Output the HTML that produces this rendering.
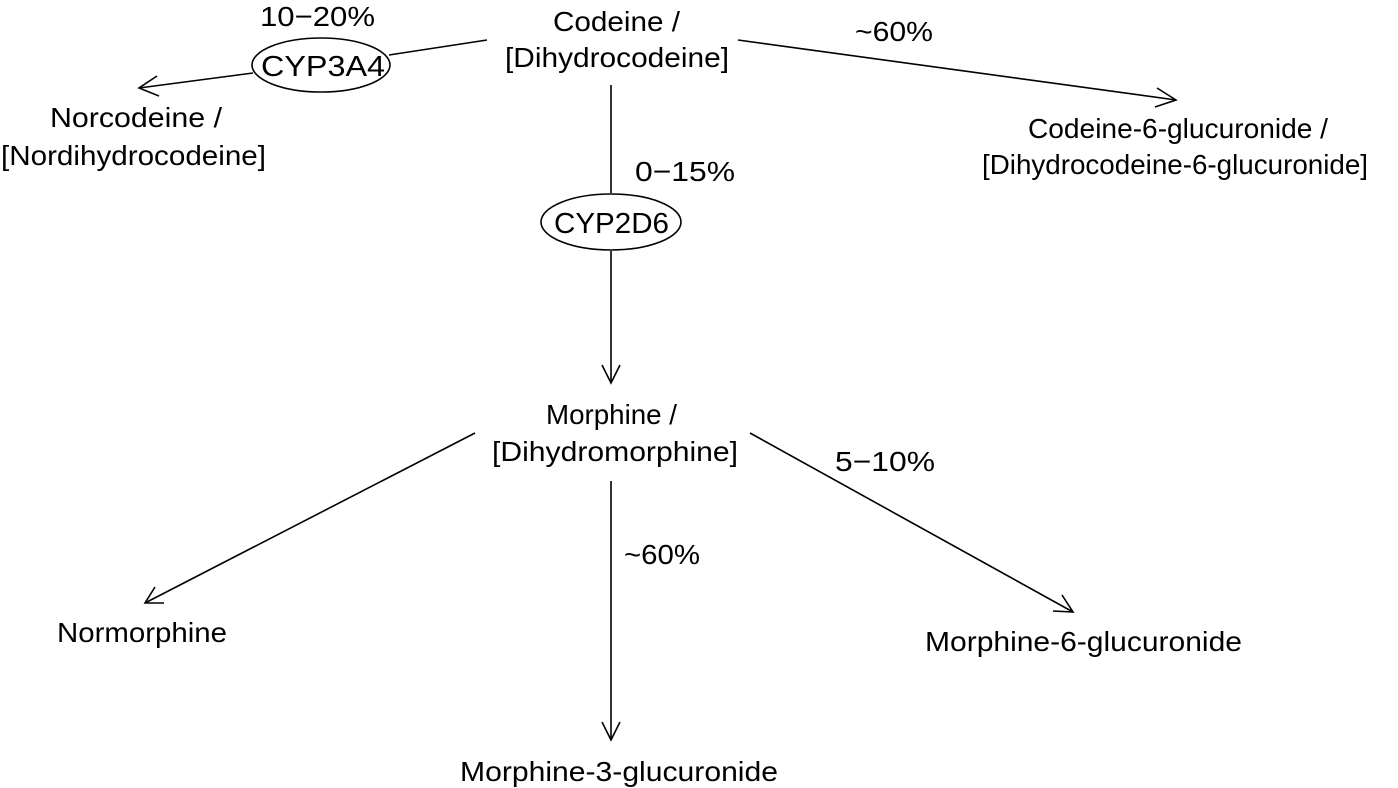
<!DOCTYPE html>
<html><head><style>
html,body{margin:0;padding:0;background:#fff;}
svg{display:block;}
text{font-family:"Liberation Sans",Arial,sans-serif;font-size:28px;fill:#000;}
</style></head><body>
<svg width="1398" height="788" viewBox="0 0 1398 788" xmlns="http://www.w3.org/2000/svg">
<g stroke="#000" stroke-width="1.6" fill="none">
<line x1="487" y1="40" x2="389" y2="55"/>
<line x1="253" y1="73" x2="139" y2="88"/>
<polyline points="157,76 139,88 159,96"/>
<ellipse cx="321" cy="65" rx="69" ry="27"/>
<line x1="738" y1="40" x2="1176" y2="100"/>
<polyline points="1157,88 1176,100 1155,107"/>
<line x1="611" y1="85" x2="611" y2="193"/>
<ellipse cx="611" cy="222" rx="70" ry="28"/>
<line x1="611" y1="251" x2="611" y2="383"/>
<polyline points="602,365 611,383 620,365"/>
<line x1="475" y1="433" x2="145" y2="603"/>
<polyline points="155,587 145,603 164,603"/>
<line x1="750" y1="433" x2="1073" y2="612"/>
<polyline points="1053,611 1073,612 1062,595"/>
<line x1="611" y1="481" x2="611" y2="740"/>
<polyline points="602,722 611,740 620,722"/>
</g>
<text x="260" y="26" textLength="115" lengthAdjust="spacingAndGlyphs">10−20%</text>
<text x="261" y="76" textLength="124" lengthAdjust="spacingAndGlyphs" style="font-size:29px">CYP3A4</text>
<text x="553" y="31" textLength="127" lengthAdjust="spacingAndGlyphs">Codeine /</text>
<text x="505" y="67" textLength="224" lengthAdjust="spacingAndGlyphs">[Dihydrocodeine]</text>
<text x="855" y="41" textLength="78" lengthAdjust="spacingAndGlyphs">~60%</text>
<text x="50" y="127" textLength="172" lengthAdjust="spacingAndGlyphs">Norcodeine /</text>
<text x="1" y="165" textLength="265" lengthAdjust="spacingAndGlyphs">[Nordihydrocodeine]</text>
<text x="1028" y="138" textLength="300" lengthAdjust="spacingAndGlyphs">Codeine-6-glucuronide /</text>
<text x="982" y="174" textLength="386" lengthAdjust="spacingAndGlyphs">[Dihydrocodeine-6-glucuronide]</text>
<text x="635" y="181" textLength="100" lengthAdjust="spacingAndGlyphs">0−15%</text>
<text x="554" y="233" textLength="115" lengthAdjust="spacingAndGlyphs" style="font-size:29px">CYP2D6</text>
<text x="546" y="424" textLength="131" lengthAdjust="spacingAndGlyphs">Morphine /</text>
<text x="492" y="461" textLength="246" lengthAdjust="spacingAndGlyphs">[Dihydromorphine]</text>
<text x="835" y="471" textLength="100" lengthAdjust="spacingAndGlyphs">5−10%</text>
<text x="624" y="564" textLength="76" lengthAdjust="spacingAndGlyphs">~60%</text>
<text x="57" y="642" textLength="170" lengthAdjust="spacingAndGlyphs">Normorphine</text>
<text x="925" y="651" textLength="317" lengthAdjust="spacingAndGlyphs">Morphine-6-glucuronide</text>
<text x="460" y="781" textLength="318" lengthAdjust="spacingAndGlyphs">Morphine-3-glucuronide</text>
</svg>
</body></html>
